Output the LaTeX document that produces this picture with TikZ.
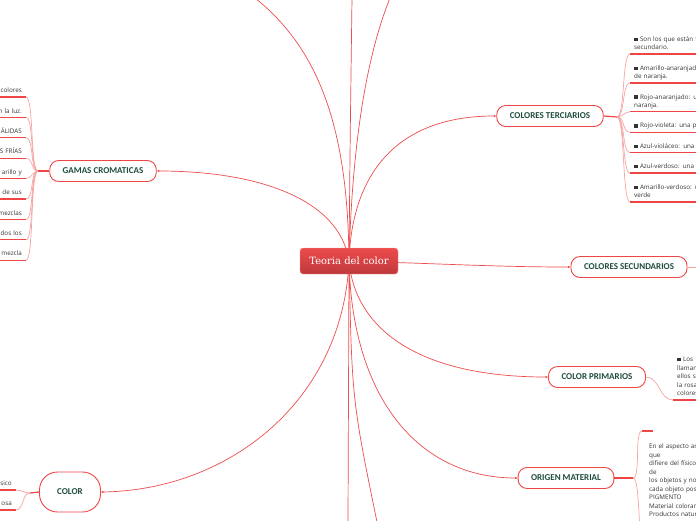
\documentclass[tikz,border=0pt]{standalone}
\usepackage{fontspec}
\setmainfont{Carlito}
\newfontfamily\slabfont{DejaVu Serif}
\newfontfamily\leaffont{Open Sans}
\usetikzlibrary {arrows.meta,
                 positioning,
                 backgrounds}
\definecolor{linkred}{HTML}{EF4B4B}
\definecolor{twigpink}{HTML}{F7A3A3}
\definecolor{linered}{HTML}{F04545}
\definecolor{topicgreen}{HTML}{1E4D3B}
\definecolor{hubtop}{HTML}{EC4B4B}
\definecolor{hubbot}{HTML}{BF383C}
\newcommand{\leafsq}{\rule[0.3pt]{3.3pt}{3.3pt}\hspace{2.5pt}}
\tikzset{
    hub/.style={rounded corners=3pt, draw=hubtop!55!white, top color=hubtop,
                bottom color=hubbot, text=white,
                font=\slabfont\fontsize{10}{11}\selectfont,
                minimum width=98pt, minimum height=26pt},
        topic/.style={draw=linered, line width=0.9pt, fill=white,
                      rounded corners=9pt, text=topicgreen,
                      font=\bfseries\fontsize{9}{10}\selectfont,
                      minimum height=21pt, inner xsep=13pt},
        link/.style={draw=linkred, line width=0.7pt,
                     -{Latex[length=2.5pt,width=2.5pt]}},
        spoke/.style={draw=linkred, line width=0.7pt},
        trunk/.style={draw=linered, line width=1.2pt},
        twig/.style={draw=twigpink, line width=0.7pt, max distance=8pt},
        leaf/.style={font=\leaffont\fontsize{6.3}{8.5}\selectfont, text=black!80,
                     inner xsep=4pt, inner ysep=1.5pt,
                     execute at begin node=\strut, execute at end node=\strut,
                     append after command={(\tikzlastnode.south west)
                         edge[trunk] (\tikzlastnode.south east)}},
        lleaf/.style={leaf, text width=40pt, align=right},
        rleaf/.style={leaf, text width=90pt, align=left},
}
\begin{document}
\begin{tikzpicture}[x=1pt, y=-1pt, node distance=8.5pt]
\useasboundingbox (0,0) rectangle (696,520);

    \node[hub] (hub) at (349,261) {Teoria del color};

    \node[topic] (gamas) at (103,171) {GAMAS CROMATICAS};
    \node[topic] (terc) at (550,116) {COLORES TERCIARIOS};
    \node[topic] (secu) at (629,267) {COLORES SECUNDARIOS};
    \node[topic] (prim) at (597,377) {COLOR PRIMARIOS};
    \node[topic] (orig) at (566,478) {ORIGEN MATERIAL};
    \node[topic, minimum width=61pt, minimum height=40pt,
          rounded corners=18pt, inner xsep=8pt] (color) at (70,492) {COLOR};

    % gamas cromaticas
    \node[lleaf, anchor=south east] (g1) at (26,97) {colores};
    \node[lleaf, below=of g1] (g2) {n la luz.};
    \node[lleaf, below=of g2] (g3) {ÁLIDAS};
    \node[lleaf, below=of g3] (g4) {S FRÍAS};
    \node[lleaf, below=of g4] (g5) {arillo y};
    \node[lleaf, below=of g5] (g6) {a de sus};
    \node[lleaf, below=of g6] (g7) {mezclas};
    \node[lleaf, below=of g7] (g8) {dos los};
    \node[lleaf, below=of g8] (g9) {mezcla};

    % colores terciarios
    \node[rleaf, anchor=south west] (t1) at (630,54)
        {\leafsq Son los que están fo\\secundario.};
    \node[rleaf, below=of t1] (t2) {\leafsq Amarillo-anaranjado\\de naranja.};
    \node[rleaf, below=of t2] (t3) {\leafsq Rojo-anaranjado: un\\naranja.};
    \node[rleaf, below=of t3] (t4) {\leafsq Rojo-violeta: una pa};
    \node[rleaf, below=of t4] (t5) {\leafsq Azul-violáceo: una p};
    \node[rleaf, below=of t5] (t6) {\leafsq Azul-verdoso: una p};
    \node[rleaf, below=of t6] (t7) {\leafsq Amarillo-verdoso: u\\verde};

    % color primarios
    \node[rleaf, anchor=south west] (p1) at (673,400)
        {\leafsq Los\\llaman\\ellos s\\la rosa\\colores};

    % origen material
    \node[leaf, minimum width=11pt, inner xsep=0pt, anchor=south west] (o1) at (642,431) {};
    \node[rleaf, anchor=north west] (o2) at (645,441)
        {En el aspecto art\\que\\difiere del físico,\\de\\los objetos y no c\\cada objeto pose\\PIGMENTO\\Material colorant\\Productos natura\rule[-30pt]{0pt}{30pt}};

    % color
    \node[lleaf, anchor=south east] (c1) at (16,490) {sico};
    \node[lleaf, below=8pt of c1] (c2) {osa};

    \coordinate (gj) at (38,171);
    \coordinate (tj) at (617,117);
    \coordinate (oj) at (633,478);
    \coordinate (cj) at (30,493);
    \coordinate (topA) at (255,-2);
    \coordinate (topB) at (352,-2);
    \coordinate (topC) at (390,-2);
    \coordinate (botA) at (348,522);
    \coordinate (botB) at (377,522);
    \coordinate (secuout) at (700,267);

    \begin{scope}[on background layer]
    \draw[link] (hub.center) .. controls (340,200) and (260,171) .. (gamas.east);
    \draw[link] (hub.center) .. controls (352,170) and (400,116) .. (terc.west);
    \draw[link] (hub.center) .. controls (450,264) and (500,267) .. (secu.west);
    \draw[link] (hub.center) .. controls (355,330) and (420,377) .. (prim.west);
    \draw[link] (hub.center) .. controls (352,400) and (420,478) .. (orig.west);
    \draw[link] (hub.center) .. controls (343,400) and (230,490) .. (color.east);
    \draw[spoke] (hub.center) .. controls (348,130) and (320,50) .. (topA);
    \draw[spoke] (hub.center) .. controls (350,150) .. (topB);
    \draw[spoke] (hub.center) .. controls (352,150) and (365,60) .. (topC);
    \draw[spoke] (hub.center) -- (botA);
    \draw[spoke] (hub.center) .. controls (352,400) .. (botB);
    \end{scope}

    \draw[twig] (secu.east) -- (secuout);

    \draw[trunk] (gamas.west) -- (gj);
    \foreach \g in {g1,g2,g3,g4,g5,g6,g7,g8,g9}
        \draw[twig] (gj) to[out=180, in=0] (\g.south east);

    \draw[trunk] (terc.east) -- (tj);
    \foreach \t in {t1,t2,t3,t4,t5,t6,t7}
        \draw[twig] (tj) to[out=0, in=180] (\t.south west);

    \draw[twig, max distance=14pt] (prim.east) to[out=0, in=180] (p1.south west);

    \draw[trunk] (orig.east) -- (oj);
    \draw[twig] (oj) to[out=0, in=180] (o1.south west);
    \draw[twig] (oj) to[out=0, in=180] (o2.south west);

    \draw[trunk] (color.west) -- (cj);
    \draw[twig] (cj) to[out=180, in=0] (c1.south east);
    \draw[twig] (cj) to[out=180, in=0] (c2.south east);

\end{tikzpicture}
\end{document}
